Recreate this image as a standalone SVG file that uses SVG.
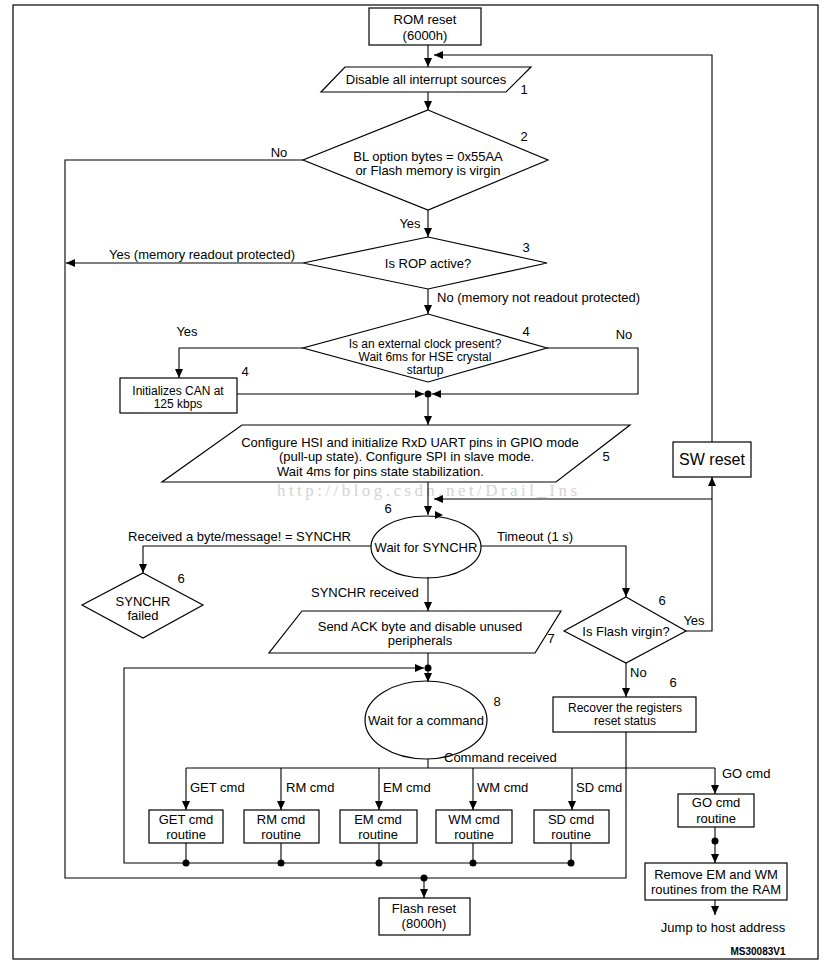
<svg xmlns="http://www.w3.org/2000/svg" width="830" height="965" viewBox="0 0 830 965">
<style>
text{font-family:"Liberation Sans",Arial,sans-serif;font-size:13px;fill:#000}
.c{text-anchor:middle}
.s{font-size:12px}
.n{fill:none;stroke:#000;stroke-width:1.2}
.l{fill:none;stroke:#000;stroke-width:1.1}
.a{marker-end:url(#ah)}
.wm{font-family:"Liberation Serif","DejaVu Serif",serif;font-size:17px;fill:#d4d4d4}
</style>
<defs>
<marker id="ah" markerWidth="10" markerHeight="8" refX="9" refY="4" orient="auto" markerUnits="userSpaceOnUse">
<path d="M0,0 L9,4 L0,8 Z" fill="#000"/>
</marker>
</defs>
<rect x="13" y="5" width="805" height="954" fill="#fff" stroke="#000" stroke-width="1.2"/>
<text class="wm" x="277" y="496" textLength="300" lengthAdjust="spacing">http://blog.csdn.net/Drail_Ins</text>

<g id="connectors">
<line class="l a" x1="428" y1="45" x2="428" y2="67"/>
<polyline class="l a" points="712,442 712,55 434,55"/>
<line class="l a" x1="428" y1="92" x2="428" y2="110"/>
<polyline class="l" points="303,160 65,160 65,878 626,878 626,732"/>
<line class="l a" x1="428" y1="210" x2="428" y2="237"/>
<line class="l a" x1="303" y1="263" x2="66" y2="263"/>
<line class="l a" x1="428" y1="289" x2="428" y2="314"/>
<polyline class="l a" points="303,348 179,348 179,378"/>
<polyline class="l a" points="547,348 638,348 638,394 432,394"/>
<line class="l a" x1="237" y1="394" x2="424" y2="394"/>
<circle cx="428" cy="394" r="3.5" fill="#000"/>
<line class="l a" x1="428" y1="394" x2="428" y2="425"/>
<line class="l a" x1="428" y1="482" x2="428" y2="515"/>
<polyline class="l a" points="686,631 712,631 712,477"/>
<line class="l a" x1="712" y1="499" x2="434" y2="499"/>
<path d="M435,511 L443,515 L435,519 Z" fill="#000"/>
<polyline class="l a" points="371,546 143,546 143,573"/>
<polyline class="l a" points="481,546 626,546 626,597"/>
<line class="l a" x1="428" y1="577" x2="428" y2="611"/>
<line class="l a" x1="626" y1="663" x2="626" y2="697"/>
<line class="l" x1="428" y1="653" x2="428" y2="668"/>
<circle cx="428" cy="668" r="3.5" fill="#000"/>
<line class="l a" x1="428" y1="668" x2="428" y2="682"/>
<polyline class="l a" points="571,863 124,863 124,668 424,668"/>
<line class="l" x1="428" y1="759" x2="428" y2="768"/>
<line class="l" x1="186" y1="768" x2="715" y2="768"/>
<line class="l a" x1="186" y1="768" x2="186" y2="810"/>
<line class="l a" x1="281" y1="768" x2="281" y2="810"/>
<line class="l a" x1="379" y1="768" x2="379" y2="810"/>
<line class="l a" x1="473" y1="768" x2="473" y2="810"/>
<line class="l a" x1="572" y1="768" x2="572" y2="810"/>
<line class="l a" x1="715" y1="768" x2="715" y2="794"/>
<line class="l" x1="186" y1="843" x2="186" y2="863"/>
<line class="l" x1="281" y1="843" x2="281" y2="863"/>
<line class="l" x1="379" y1="843" x2="379" y2="863"/>
<line class="l" x1="473" y1="843" x2="473" y2="863"/>
<line class="l" x1="571" y1="843" x2="571" y2="863"/>
<circle cx="186" cy="863" r="3.5" fill="#000"/>
<circle cx="281" cy="863" r="3.5" fill="#000"/>
<circle cx="379" cy="863" r="3.5" fill="#000"/>
<circle cx="473" cy="863" r="3.5" fill="#000"/>
<circle cx="571" cy="863" r="3.5" fill="#000"/>
<circle cx="424" cy="878" r="3.5" fill="#000"/>
<line class="l a" x1="424" y1="878" x2="424" y2="898"/>
<line class="l a" x1="715" y1="827" x2="715" y2="863"/>
<circle cx="715" cy="841" r="3.5" fill="#000"/>
<line class="l a" x1="715" y1="900" x2="715" y2="915"/>
</g>

<g id="labels">
<text x="279" y="157" class="c">No</text>
<text x="410" y="228" class="c">Yes</text>
<text x="295" y="259" text-anchor="end">Yes (memory readout protected)</text>
<text x="437" y="302">No (memory not readout protected)</text>
<text x="187" y="336" class="c">Yes</text>
<text x="624" y="339" class="c">No</text>
<text x="351" y="541" text-anchor="end">Received a byte/message! = SYNCHR</text>
<text x="497" y="541">Timeout (1 s)</text>
<text x="311" y="597">SYNCHR received</text>
<text x="694" y="625" class="c">Yes</text>
<text x="630" y="677">No</text>
<text x="444" y="762">Command received</text>
<text x="190" y="792">GET cmd</text>
<text x="286" y="792">RM cmd</text>
<text x="383" y="792">EM cmd</text>
<text x="477" y="792">WM cmd</text>
<text x="576" y="792">SD cmd</text>
<text x="722" y="778">GO cmd</text>
</g>

<g id="rom"><rect class="n" x="369" y="8" width="112" height="37" fill="#fff"/>
<text x="425" y="24" class="c">ROM reset</text><text x="425" y="40" class="c">(6000h)</text></g>

<g id="disable"><polygon class="n" points="345,67 531,67 506,92 321,92" fill="#fff"/>
<text x="426" y="84" class="c">Disable all interrupt sources</text><text x="524" y="94" class="c">1</text></g>

<g id="d2"><polygon class="n" points="428,110 548,160 428,210 303,160" fill="#fff"/>
<text x="428" y="161" class="c">BL option bytes = 0x55AA</text><text x="428" y="175" class="c">or Flash memory is virgin</text>
<text x="524" y="141" class="c">2</text></g>

<g id="d3"><polygon class="n" points="428,237 547,263 428,289 303,263" fill="#fff"/>
<text x="428" y="268" class="c">Is ROP active?</text><text x="526" y="252" class="c">3</text></g>

<g id="d4"><polygon class="n" points="428,314 547,348 428,382 303,348" fill="#fff"/>
<text x="425" y="348" class="c s">Is an external clock present?</text>
<text x="425" y="361" class="c s">Wait 6ms for HSE crystal</text>
<text x="425" y="374" class="c s">startup</text>
<text x="526" y="336" class="c">4</text></g>

<g id="can"><rect class="n" x="120" y="378" width="117" height="35" fill="#fff"/>
<text x="178" y="395" class="c s">Initializes CAN at</text><text x="178" y="408" class="c s">125 kbps</text>
<text x="245" y="376" class="c">4</text></g>

<g id="p5"><polygon class="n" points="242,425 630,425 556,482 162,482" fill="#fff"/>
<text x="410" y="447" class="c">Configure HSI and initialize RxD UART pins in GPIO mode</text>
<text x="279" y="461">(pull-up state). Configure SPI in slave mode.</text>
<text x="277" y="476">Wait 4ms for pins state stabilization.</text>
<text x="606" y="461" class="c">5</text></g>

<g id="swreset"><rect class="n" x="673" y="442" width="78" height="35" fill="#fff"/>
<text x="712" y="465" class="c" style="font-size:16px">SW reset</text></g>

<g id="synchr"><ellipse class="n" cx="426" cy="547" rx="55" ry="31" fill="#fff"/>
<text x="426" y="552" class="c">Wait for SYNCHR</text><text x="388" y="513" class="c">6</text></g>

<g id="failed"><polygon class="n" points="143,573 203,605 143,638 82,605" fill="#fff"/>
<text x="143" y="606" class="c">SYNCHR</text><text x="143" y="620" class="c">failed</text>
<text x="181" y="583" class="c">6</text></g>

<g id="virgin"><polygon class="n" points="626,597 686,631 626,663 564,631" fill="#fff"/>
<text x="626" y="636" class="c">Is Flash virgin?</text><text x="662" y="605" class="c">6</text></g>

<g id="p7"><polygon class="n" points="302,611 561,611 535,653 269,653" fill="#fff"/>
<text x="420" y="631" class="c">Send ACK byte and disable unused</text>
<text x="420" y="645" class="c">peripherals</text>
<text x="551" y="643" class="c">7</text></g>

<g id="recover"><rect class="n" x="553" y="697" width="143" height="35" fill="#fff"/>
<text x="625" y="712" class="c s">Recover the registers</text><text x="625" y="725" class="c s">reset status</text>
<text x="673" y="687" class="c">6</text></g>

<g id="waitcmd"><ellipse class="n" cx="426" cy="720" rx="61" ry="39" fill="#fff"/>
<text x="426" y="725" class="c">Wait for a command</text><text x="497" y="706" class="c">8</text></g>

<g id="get"><rect class="n" x="149" y="810" width="74" height="33" fill="#fff"/>
<text x="186" y="824" class="c">GET cmd</text><text x="186" y="839" class="c">routine</text></g>
<g id="rm"><rect class="n" x="244" y="810" width="75" height="33" fill="#fff"/>
<text x="281" y="824" class="c">RM cmd</text><text x="281" y="839" class="c">routine</text></g>
<g id="em"><rect class="n" x="340" y="810" width="77" height="33" fill="#fff"/>
<text x="378" y="824" class="c">EM cmd</text><text x="378" y="839" class="c">routine</text></g>
<g id="wm"><rect class="n" x="436" y="810" width="76" height="33" fill="#fff"/>
<text x="474" y="824" class="c">WM cmd</text><text x="474" y="839" class="c">routine</text></g>
<g id="sd"><rect class="n" x="534" y="810" width="75" height="33" fill="#fff"/>
<text x="571" y="824" class="c">SD cmd</text><text x="571" y="839" class="c">routine</text></g>
<g id="go"><rect class="n" x="678" y="794" width="76" height="33" fill="#fff"/>
<text x="716" y="807" class="c">GO cmd</text><text x="716" y="823" class="c">routine</text></g>

<g id="flashreset"><rect class="n" x="379" y="898" width="91" height="37" fill="#fff"/>
<text x="424" y="913" class="c">Flash reset</text><text x="424" y="928" class="c">(8000h)</text></g>

<g id="remove"><rect class="n" x="645" y="863" width="142" height="37" fill="#fff"/>
<text x="716" y="879" class="c">Remove EM and WM</text><text x="716" y="894" class="c">routines from the RAM</text></g>

<g id="jump"><text x="723" y="932" class="c">Jump to host address</text></g>
<text x="758" y="955" class="c" style="font-size:10px;font-weight:bold">MS30083V1</text>
</svg>
